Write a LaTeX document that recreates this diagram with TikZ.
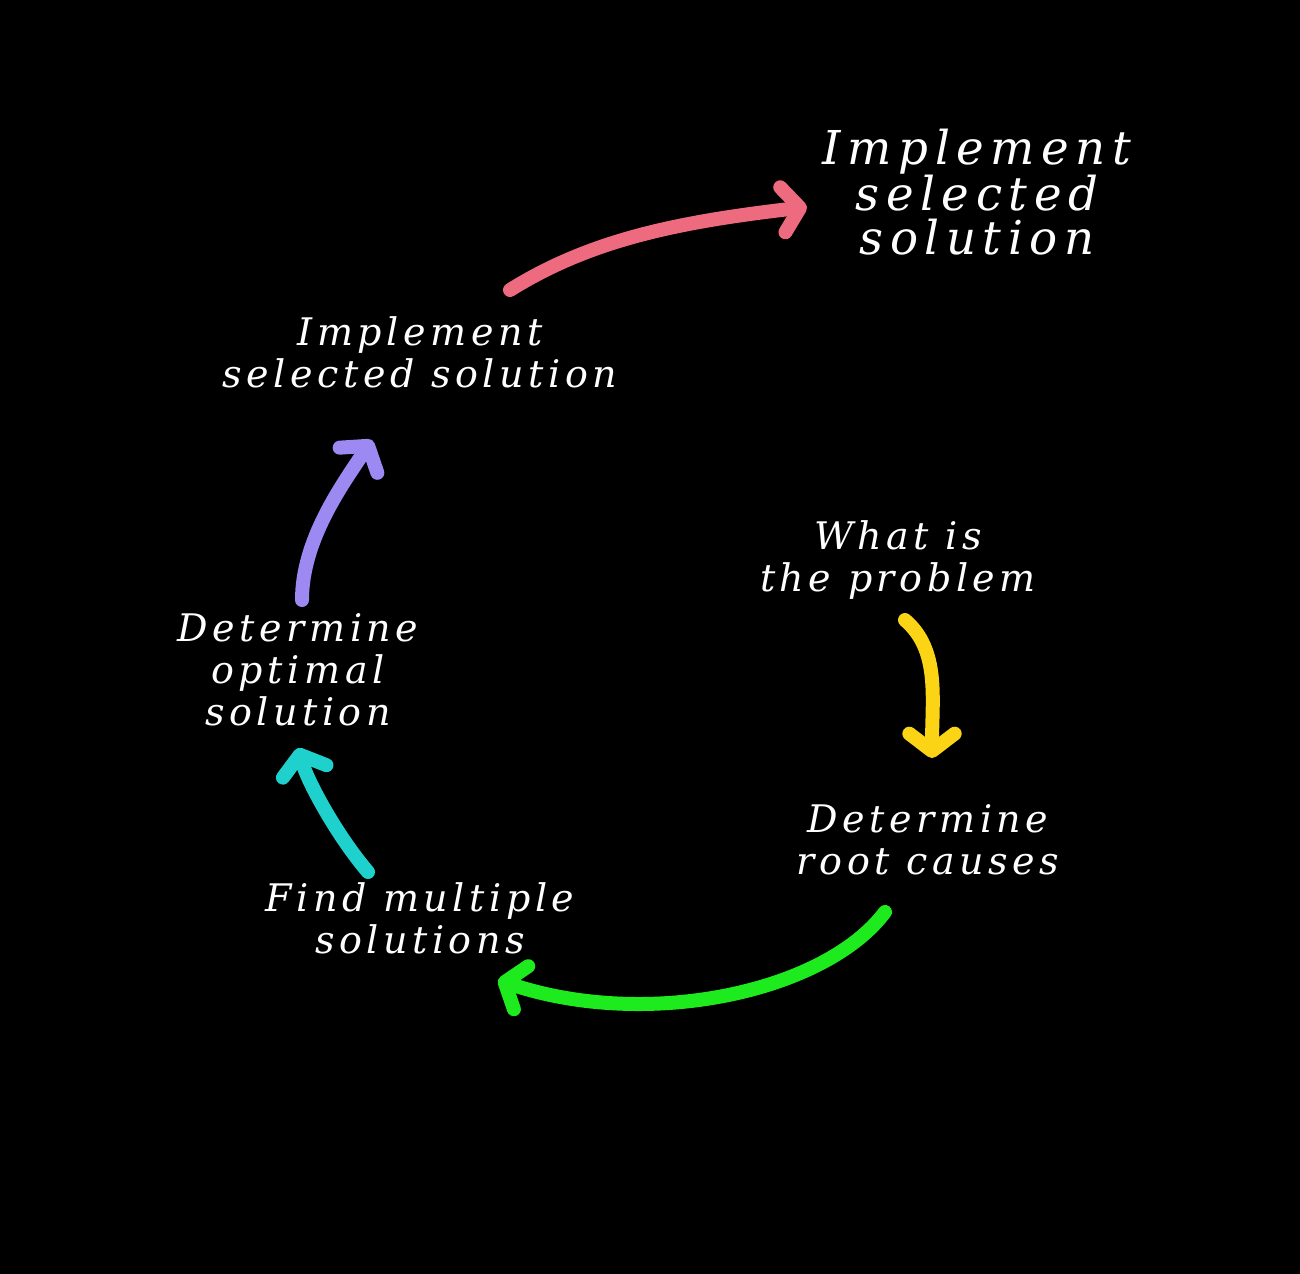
\documentclass[tikz,border=0pt]{standalone}
\usepackage{fontspec}
\newfontfamily\handfont{DejaVu Serif}[LetterSpace=12]
\newfontfamily\bighandfont{DejaVu Serif}[LetterSpace=14]
\usetikzlibrary{arrows.meta}

\definecolor{cyellow}{RGB}{252,212,22}
\definecolor{cgreen}{RGB}{30,235,30}
\definecolor{ccyan}{RGB}{31,209,205}
\definecolor{cpurple}{RGB}{156,137,242}
\definecolor{cpink}{RGB}{238,106,126}

\tikzset{every picture/.style={line width=0.75pt}}
\tikzset{
	steptext/.style={text=white, align=center, inner sep=0pt, font=\handfont\itshape\fontsize{28.5}{31.5}\selectfont},
	bigtext/.style={steptext, font=\bighandfont\itshape\fontsize{35}{33}\selectfont},
	flow/.style={line width=10.5pt, line cap=round, -{Straight Barb[length=13pt,width=34pt,round]}}
}

\begin{document}
\begin{tikzpicture}[x=0.75pt,y=0.75pt,yscale=-1,xscale=1]
		% background, sets the size
		\fill[black] (0,0) rectangle (1300,1274);
		\useasboundingbox (0,0) rectangle (1300,1274);

		% Text Nodes
		\node[steptext] (prob) at (898,560) {What is\\the problem};
		\node[steptext] (roots) at (928,840) {Determine\\root causes};
		\node[steptext] (multi) at (420,918) {Find multiple\\solutions};
		\node[steptext] (optimal) at (298,670) {Determine\\optimal\\solution};
		\node[steptext] (implement) at (420,352) {Implement\\selected solution};
		\node[bigtext] (result) at (977,192) {Implement\\selected\\solution};

		% Curve Lines
		\draw[flow, cyellow] ([shift={(7,60)}]prob.center) .. controls +(35,30) and +(0,-60) .. ([shift={(4,-82)}]roots.center);
		\draw[flow, cgreen] ([shift={(-43,72)}]roots.center) .. controls +(-60,80) and +(150,50) .. ([shift={(78,62)}]multi.center);
		\draw[flow, ccyan] ([shift={(-52,-46)}]multi.center) .. controls +(-30,-35) and +(10,35) .. ([shift={(0,78)}]optimal.center);
		\draw[flow, cpurple] ([shift={(4,-70)}]optimal.center) .. controls +(0,-60) and +(-30,45) .. ([shift={(-48,88)}]implement.center);
		\draw[flow, cpink] ([shift={(90,-62)}]implement.center) .. controls +(80,-50) and +(-130,15) .. ([shift={(-170,15)}]result.center);

\end{tikzpicture}
\end{document}
